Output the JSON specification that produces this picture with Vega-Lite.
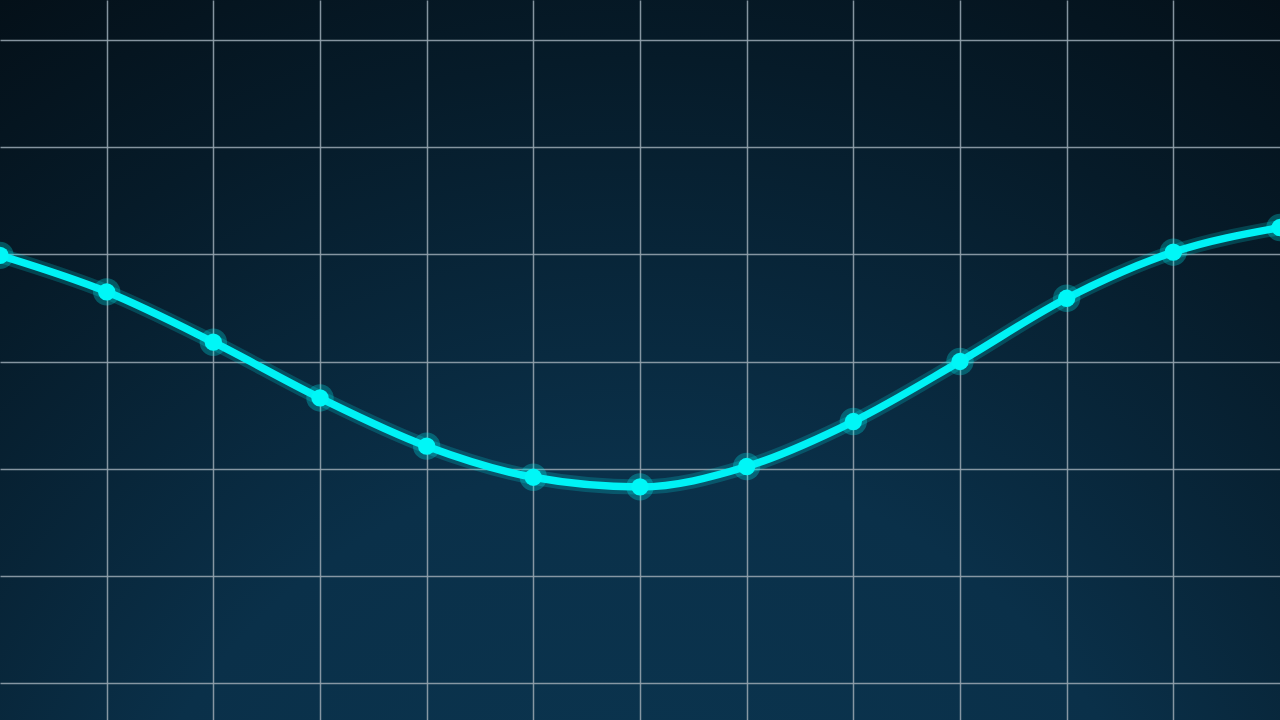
{
  "$schema": "https://vega.github.io/schema/vega-lite/v6.json",
  "width": 1280,
  "height": 720,
  "autosize": {"type": "fit", "contains": "padding"},
  "padding": 0,
  "background": "#03090e",
  "data": {
    "values": [
      {"step": 0, "level": 3.99},
      {"step": 1, "level": 3.65},
      {"step": 2, "level": 3.18},
      {"step": 3, "level": 2.66},
      {"step": 4, "level": 2.21},
      {"step": 5, "level": 1.92},
      {"step": 6, "level": 1.83},
      {"step": 7, "level": 2.02},
      {"step": 8, "level": 2.44},
      {"step": 9, "level": 3.0},
      {"step": 10, "level": 3.59},
      {"step": 11, "level": 4.02},
      {"step": 12, "level": 4.25}
    ]
  },
  "encoding": {
    "x": {
      "field": "step",
      "type": "quantitative",
      "scale": {"domain": [0, 12], "nice": false, "zero": false},
      "axis": {
        "values": [1, 2, 3, 4, 5, 6, 7, 8, 9, 10, 11],
        "grid": true,
        "gridColor": "#93a2ad",
        "gridWidth": 1.5,
        "gridOpacity": 0.9,
        "labels": false,
        "ticks": false,
        "domain": false,
        "title": null
      }
    },
    "y": {
      "field": "level",
      "type": "quantitative",
      "scale": {"domain": [-0.345, 6.373], "nice": false, "zero": false},
      "axis": {
        "values": [0, 1, 2, 3, 4, 5, 6],
        "grid": true,
        "gridColor": "#93a2ad",
        "gridWidth": 1.5,
        "gridOpacity": 0.9,
        "labels": false,
        "ticks": false,
        "domain": false,
        "title": null
      }
    }
  },
  "layer": [
    {
      "mark": {"type": "line", "interpolate": "monotone", "color": "#00f0f5", "strokeWidth": 15, "opacity": 0.2, "clip": true}
    },
    {
      "mark": {"type": "line", "interpolate": "monotone", "color": "#00f2f5", "strokeWidth": 7.5, "strokeCap": "round", "clip": true}
    },
    {
      "mark": {"type": "circle", "color": "#00f0f5", "size": 750, "opacity": 0.28, "clip": true}
    },
    {
      "mark": {"type": "circle", "color": "#00f7f7", "size": 300, "opacity": 1, "clip": true}
    }
  ],
  "config": {
    "view": {
      "stroke": null,
      "fill": {
        "gradient": "radial",
        "x1": 0.5, "y1": 1.0, "r1": 0,
        "x2": 0.5, "y2": 1.0, "r2": 1.05,
        "stops": [
          {"offset": 0, "color": "#0b3651"},
          {"offset": 0.4, "color": "#0a3049"},
          {"offset": 0.7, "color": "#061b29"},
          {"offset": 1, "color": "#03090e"}
        ]
      }
    }
  }
}
